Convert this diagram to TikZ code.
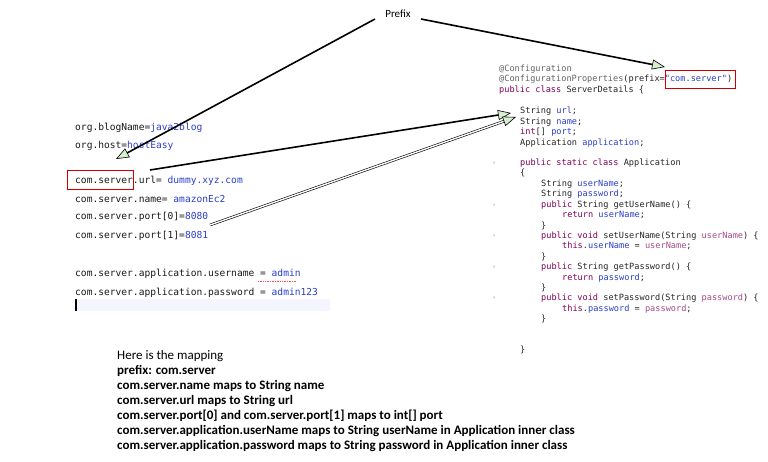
\documentclass[tikz,border=0pt]{standalone}
\usepackage{fontspec}
\setmainfont{Carlito}
\setmonofont{DejaVu Sans Mono}
\usetikzlibrary{arrows.meta,calc}
\definecolor{kw}{HTML}{7F0055}
\definecolor{fld}{HTML}{2A3FC8}
\definecolor{ann}{HTML}{646464}
\definecolor{tip}{HTML}{D5EFCF}
\newcommand{\K}[1]{\textcolor{kw}{#1}}
\newcommand{\F}[1]{\textcolor{fld}{#1}}
\begin{document}
\begin{tikzpicture}[x=1pt,y=-1pt,
  lc/.style={anchor=west,inner sep=0pt,font=\ttfamily\fontsize{9.6}{10}\selectfont,text=black!90},
  rc/.style={anchor=west,inner sep=0pt,font=\ttfamily\fontsize{8.6}{9}\selectfont,text=black!85},
  bt/.style={anchor=west,inner sep=0pt,font=\fontsize{13}{14}\selectfont},
  bb/.style={bt,font=\fontsize{13}{14}\selectfont\bfseries},
  mk/.style={inner sep=0pt,font=\fontsize{6}{6}\selectfont,text=black!35},
  box/.style={draw=red!80!black,line width=1pt,inner sep=0pt},
  tipst/.style={-{Triangle[open,length=13pt,width=10pt,line width=0.6pt,fill=tip]}},
  arr/.style={line width=1.6pt,tipst}]
\useasboundingbox (0,0) rectangle (768,461);
\fill[white] (0,0) rectangle (768,461);
% prefix label
\node[inner sep=1pt,font=\fontsize{11}{12}\selectfont] (pre) at (398,14) {Prefix};
% left properties
\fill[blue!4] (75,299) rectangle (330,311);
\node[lc] (l1) at (75,128) {org.blogName=\F{java2blog}};
\node[lc] (l2) at (75,146) {org.host=\F{hostEasy}};
\node[lc] (l3) at (75,181) {com.server.url= \F{dummy.xyz.com}};
\node[lc] (l4) at (75,199) {com.server.name= \F{amazonEc2}};
\node[lc] (l5) at (75,217) {com.server.port[0]=\F{8080}};
\node[lc] (l6) at (75,236) {com.server.port[1]=\F{8081}};
\node[lc] (l7) at (75,274) {com.server.application.username = \F{admin}};
\node[lc] (l8) at (75,293) {com.server.application.password = \F{admin123}};
\draw[red!70,densely dotted,line width=0.7pt] (258,281) -- (296,281);
\draw[line width=1.2pt] (76,299) -- (76,311);
\node[box,minimum width=66pt,minimum height=19pt] (lbox) at (100,180) {};
% right code
\node[rc,text=ann] (r1) at (499,69) {@Configuration};
\node[rc] (r2) at (499,79) {\textcolor{ann}{@ConfigurationProperties}(prefix=\F{"com.server"})};
\node[rc] (r3) at (499,90) {\K{public class} ServerDetails \{};
\node[rc] (r4) at (520,111) {String \F{url};};
\node[rc] (r5) at (520,122) {String \F{name};};
\node[rc] (r6) at (520,132) {\K{int}[] \F{port};};
\node[rc] (r7) at (520,143) {Application \F{application};};
\node[rc] (r8) at (520,163) {\K{public static class} Application};
\node[rc] at (520,173) {\{};
\node[rc] at (541,184) {String \F{userName};};
\node[rc] at (541,194) {String \F{password};};
\node[rc] at (541,205) {\K{public} String getUserName() \{};
\node[rc] at (562,215) {\K{return} \F{userName};};
\node[rc] at (541,226) {\}};
\node[rc] at (541,236) {\K{public void} setUserName(String \textcolor{kw!70}{userName}) \{};
\node[rc] at (562,246) {\K{this}.\F{userName} = \textcolor{kw!70}{userName};};
\node[rc] at (541,257) {\}};
\node[rc] at (541,267) {\K{public} String getPassword() \{};
\node[rc] at (562,278) {\K{return} \F{password};};
\node[rc] at (541,288) {\}};
\node[rc] at (541,298) {\K{public void} setPassword(String \textcolor{kw!70}{password}) \{};
\node[rc] at (562,309) {\K{this}.\F{password} = \textcolor{kw!70}{password};};
\node[rc] at (541,319) {\}};
\node[rc] at (520,350) {\}};
\foreach \yy/\nm in {163/m1,205/m2,236/m3,267/m4,298/m5} \node[mk] (\nm) at (494,\yy) {\guillemotright};
\node[box,minimum width=70pt,minimum height=18pt] (rbox) at (700,79) {};
% arrows
\coordinate (a1s) at (375,19);
\coordinate (a1e) at (116,159);
\coordinate (a2s) at (421,19);
\coordinate (a2e) at (665,67);
\coordinate (a3s) at (150,170);
\coordinate (a3e) at (511,113);
\coordinate (a4s) at (210,225);
\coordinate (a4e) at (516,117);
\draw[arr] (a1s) -- (a1e);
\draw[arr] (a2s) -- (a2e);
\draw[arr] (a3s) -- (a3e);
\draw[double,double distance=1.4pt,line width=0.6pt,shorten >=10pt] (a4s) -- (a4e);
\draw[tipst,line width=0.6pt] ($(a4s)!0.96!(a4e)$) -- (a4e);
% bottom text
\node[bt] (b0) at (117,356) {Here is the mapping};
\node[bb] (b1) at (117,371) {prefix: com.server};
\node[bb] (b2) at (117,386) {com.server.name maps to String name};
\node[bb] (b3) at (117,401) {com.server.url maps to String url};
\node[bb] (b4) at (117,416) {com.server.port[0] and com.server.port[1] maps to int[] port};
\node[bb] (b5) at (117,431) {com.server.application.userName maps to String userName in Application inner class};
\node[bb] (b6) at (117,446) {com.server.application.password maps to String password in Application inner class};
\end{tikzpicture}
\end{document}
